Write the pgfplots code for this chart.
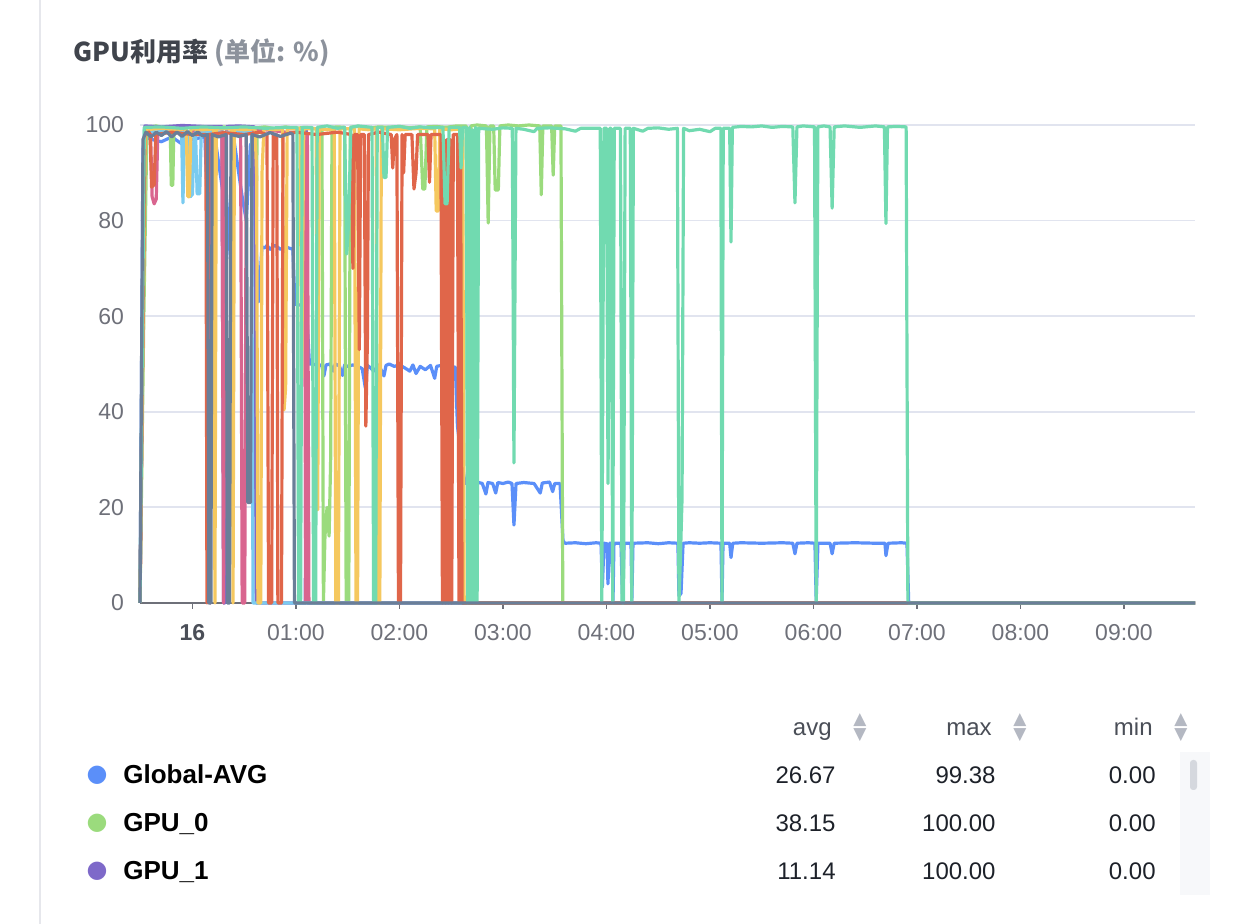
\documentclass[border=0pt]{standalone}
\usepackage{pgfplots}
\pgfplotsset{compat=1.18}
\usepackage{fontspec}
\setmainfont{Liberation Sans}
\newfontfamily\cjk{Noto Sans CJK SC}
\newfontfamily\symb{DejaVu Sans}

\definecolor{cAvg}{HTML}{5B8FF9}
\definecolor{cGa}{HTML}{9BDB7D}
\definecolor{cGb}{HTML}{7E69C9}
\definecolor{cYel}{HTML}{F5C85F}
\definecolor{cRed}{HTML}{E0664A}
\definecolor{cSky}{HTML}{7ACBF0}
\definecolor{cPink}{HTML}{D9658F}
\definecolor{cMint}{HTML}{71DAB0}
\definecolor{cSlate}{HTML}{6A7E98}
\definecolor{cGrid}{HTML}{E1E4EF}
\definecolor{cAxis}{HTML}{6E7079}
\definecolor{cDay}{HTML}{4A4E57}
\definecolor{cTitle}{HTML}{40444C}
\definecolor{cSub}{HTML}{8C929C}
\definecolor{cText}{HTML}{1D2129}
\definecolor{cArrow}{HTML}{B4B8C2}
\definecolor{cFrame}{HTML}{E6E7EC}
\definecolor{cPanel}{HTML}{F7F8FA}
\definecolor{cThumb}{HTML}{D5D8DE}

\begin{document}
\begin{tikzpicture}
\path[use as bounding box] (0pt,0pt) rectangle (625pt,462pt);
\draw[cFrame, line width=1pt] (20pt,0pt) -- (20pt,462pt);

% title
\node[anchor=west, inner sep=0pt] at (36.5pt,435.5pt)
  {\cjk\bfseries\fontsize{13}{15}\selectfont\color{cTitle}GPU利用率 \color{cSub}(单位: \%)};

\begin{axis}[
  at={(70pt,160.5pt)}, anchor=south west,
  scale only axis, width=527.5pt, height=239pt,
  xmin=-0.507, xmax=9.686, ymin=0, ymax=100,
  clip=false,
  axis x line*=bottom, axis y line*=left,
  axis line style={-},
  y axis line style={draw=none},
  x axis line style={draw=cAxis, line width=0.9pt},
  xtick={0,1,2,3,4,5,6,7,8,9},
  xticklabels={{\bfseries\color{cDay}16},01:00,02:00,03:00,04:00,05:00,06:00,07:00,08:00,09:00},
  ytick={0,20,40,60,80,100},
  ymajorgrids, grid style={draw=cGrid, line width=0.9pt},
  tick align=outside, major tick length=3pt,
  xtick style={draw=cAxis, line width=0.9pt},
  ytick style={draw=none},
  tick label style={font=\fontsize{11.5}{13}\selectfont, color=cAxis},
  xticklabel style={yshift=-4pt},
  yticklabel style={xshift=-1.5pt},
  /pgf/number format/assume math mode=true,
  every axis plot/.append style={line width=1.6pt, line join=round, no markers},
]
% Global-AVG
\addplot[cAvg] coordinates {
(-0.507,0) (-0.478,95) (-0.459,97.5) (-0.4,97) (-0.3,96.5) (-0.2,97.5) (-0.1,96) (0,97) (0.12,97.5)
(0.14,85) (0.16,75) (0.19,88) (0.22,97) (0.30,85) (0.33,72) (0.37,86) (0.40,97) (0.48,85) (0.52,80)
(0.56,96) (0.585,86) (0.615,74) (0.64,63) (0.671,74.5) (0.70,74.3) (0.72,74.8) (0.75,74) (0.78,74.6)
(0.80,74.8) (0.85,74) (0.90,74.5) (0.94,74.2) (0.97,74) (0.99,62.5) (1.05,62.3) (1.10,62.5) (1.13,50)
(1.232,49.8) (1.25,49.6) (1.27,47.5) (1.29,49.8) (1.33,50) (1.36,48.5) (1.38,50) (1.42,49.6) (1.45,47.6)
(1.47,49.8) (1.50,49.5) (1.55,49.8) (1.60,49.5) (1.64,49) (1.67,45) (1.69,49.7) (1.72,49.2) (1.75,48.5)
(1.80,49.8) (1.85,47.5) (1.87,49.7) (1.90,50) (1.95,49.5) (2.00,49.8) (2.05,49.2) (2.10,48.5) (2.13,49.8)
(2.16,48) (2.20,49.5) (2.25,48.8) (2.30,49.7) (2.34,47) (2.36,49.5) (2.40,49.7) (2.45,49.2) (2.50,49.5)
(2.54,49.3) (2.56,37) (2.60,30) (2.633,25) (2.66,25.2) (2.70,24.8) (2.75,25.3) (2.80,25) (2.835,22.8)
(2.855,25.2) (2.90,25) (2.93,23) (2.95,25.2) (3.00,25) (3.05,25.3) (3.087,25) (3.106,16.3) (3.126,25)
(3.20,25.2) (3.30,25) (3.36,23) (3.38,25.1) (3.45,25.3) (3.48,23.3) (3.50,25) (3.551,25) (3.58,13)
(3.60,12.5) (3.70,12.6) (3.80,12.4) (3.90,12.6) (3.947,12.5) (3.96,3.3) (3.976,12.5) (4.005,12.4)
(4.014,4) (4.03,12.5) (4.053,12.5) (4.063,0.5) (4.072,12.5) (4.14,12.5) (4.155,0.5) (4.17,12.5)
(4.237,12.5) (4.245,0.5) (4.256,12.5) (4.40,12.6) (4.50,12.4) (4.60,12.6) (4.69,12.5) (4.70,1.5)
(4.72,2) (4.74,12.5) (4.80,12.6) (4.90,12.5) (5.00,12.6) (5.106,12.5) (5.116,0.5) (5.126,12.5)
(5.19,12.5) (5.203,9.5) (5.22,12.5) (5.30,12.6) (5.50,12.5) (5.70,12.6) (5.80,12.5) (5.821,10.3)
(5.84,12.5) (5.95,12.6) (6.014,12.5) (6.026,0.5) (6.043,12.5) (6.16,12.5) (6.18,10.3) (6.20,12.5)
(6.40,12.6) (6.60,12.5) (6.69,12.5) (6.70,9.9) (6.72,12.5) (6.85,12.6) (6.903,12.5) (6.92,0) (9.686,0)
};
% GPU_0
\addplot[cGa] coordinates {
(-0.507,0) (-0.47,60) (-0.44,99.5) (-0.35,99.8) (-0.25,99.3) (-0.215,99.5) (-0.205,87.4) (-0.19,87.4)
(-0.18,99.5) (-0.1,99.8) (0,99.4) (0.1,99.7) (0.2,99.2) (0.3,99.6) (0.4,99.3) (0.5,99.7) (0.6,99.4)
(0.61,66) (0.625,99.4) (0.7,99.6) (0.8,99.2) (0.9,99.6) (0.98,99.3) (1.1,99.5) (1.2,99.2) (1.251,99.5)
(1.265,0) (1.28,14) (1.30,20) (1.32,14) (1.335,30) (1.348,99.5) (1.4,99.6) (1.47,99.5) (1.485,0)
(1.51,0) (1.525,99.5) (1.6,99.7) (1.7,99.3) (1.8,99.6) (1.9,99.5) (2.0,99.7) (2.1,99.4) (2.2,99.6)
(2.225,86.6) (2.245,86.6) (2.265,99.6) (2.35,99.7) (2.45,99.5) (2.55,99.8) (2.645,99.8) (2.66,0)
(2.675,0) (2.69,99.8) (2.75,100) (2.84,99.8) (2.857,79.5) (2.874,99.8) (2.91,99.8) (2.925,86.4)
(2.955,86.4) (2.97,99.8) (3.05,100) (3.15,99.8) (3.25,100) (3.355,99.8) (3.37,85.4) (3.385,99.8)
(3.47,99.8) (3.485,89.5) (3.50,99.8) (3.56,99.8) (3.578,0) (9.686,0)
};
% GPU_1
\addplot[cGb] coordinates {
(-0.507,0) (-0.46,99.8) (-0.3,99.6) (-0.1,99.9) (0.1,99.7) (0.285,99.7) (0.30,0) (0.315,0) (0.33,99.7)
(0.45,99.8) (0.60,99.6) (0.615,0) (1.09,0) (1.10,99) (1.11,0) (9.686,0)
};
% pink
\addplot[cPink] coordinates {
(-0.507,0) (-0.46,99) (-0.405,98.5) (-0.39,85) (-0.37,83.5) (-0.35,84.5) (-0.335,98.5) (-0.2,99)
(-0.05,98.5) (0.1,99) (0.16,98.5) (0.172,0) (0.188,98.5) (0.285,98.5) (0.30,0) (0.32,98.5) (0.465,98.5)
(0.48,0) (0.505,0) (0.52,98.5) (0.7,99) (0.9,98.5) (1.08,98.5) (1.095,0) (1.11,98) (1.125,0) (9.686,0)
};
% light blue
\addplot[cSky] coordinates {
(-0.507,0) (-0.465,99) (-0.35,98.5) (-0.25,99) (-0.15,98.6) (-0.105,98.6) (-0.092,83.7) (-0.078,98.6)
(-0.035,98.6) (-0.02,85) (0.0,85.5) (0.015,98) (0.03,98.4) (0.045,85.6) (0.07,85.6) (0.085,98.4)
(0.2,98.6) (0.35,98.4) (0.5,98.7) (0.57,98.4) (0.585,0) (9.686,0)
};
% yellow
\addplot[cYel] coordinates {
(-0.507,0) (-0.455,99) (-0.3,99.3) (-0.15,99) (-0.06,99.2) (-0.045,85) (-0.03,85) (-0.015,99.2) (0.1,99)
(0.205,99.2) (0.217,0) (0.23,99.2) (0.38,99.2) (0.392,0) (0.405,99.2) (0.5,99) (0.605,99.2) (0.62,89.5)
(0.632,0) (0.66,0) (0.672,90) (0.69,99.2) (0.8,99) (0.87,99.2) (0.885,40.4) (0.90,45) (0.915,99.2)
(1.04,99.2) (1.055,47) (1.075,99.2) (1.195,99.2) (1.21,19.5) (1.225,99.2) (1.3,99) (1.37,99.2)
(1.385,0) (1.41,0) (1.425,99.2) (1.565,99.2) (1.58,0) (1.595,0) (1.61,99.2) (1.7,99) (1.775,99.2)
(1.79,0) (1.81,0) (1.825,99.2) (2.0,99) (2.2,99.3) (2.34,99.2) (2.355,82) (2.375,82) (2.39,99.2)
(2.5,99) (2.61,99.2) (2.625,0) (9.686,0)
};
% red
\addplot[cRed] coordinates {
(-0.507,0) (-0.46,98) (-0.42,98.5) (-0.41,98) (-0.395,87) (-0.37,87.5) (-0.355,98) (-0.2,98.5) (0,98)
(0.13,98) (0.14,0) (0.155,98) (0.3,98.4) (0.5,98) (0.65,98.5) (0.72,98) (0.735,0) (0.765,0) (0.78,98)
(0.80,93) (0.815,98) (0.825,0) (0.86,0) (0.875,98) (1.0,98.5) (1.2,98) (1.4,98.5) (1.535,98) (1.55,70)
(1.565,98) (1.595,98) (1.612,53) (1.625,98) (1.66,98) (1.675,37) (1.69,55) (1.70,98) (1.8,98.5)
(1.92,98) (1.935,91) (1.95,97) (1.975,98) (1.99,0) (2.01,0) (2.025,98) (2.04,90) (2.055,98) (2.12,98)
(2.14,86.6) (2.16,90) (2.175,98) (2.275,98) (2.29,88) (2.305,98) (2.40,98) (2.415,0) (2.43,97)
(2.445,0) (2.46,97) (2.475,0) (2.49,97) (2.505,0) (2.52,98) (2.56,98) (2.575,0) (2.59,97) (2.605,0)
(9.686,0)
};
% mint
\addplot[cMint] coordinates {
(-0.507,0) (-0.465,99.5) (-0.3,99.6) (-0.1,99.3) (0.1,99.6) (0.3,99.4) (0.5,99.6) (0.7,99.3) (0.9,99.5)
(1.01,99.5) (1.025,0) (1.045,0) (1.06,99.5) (1.155,99.5) (1.17,0) (1.19,0) (1.205,99.5) (1.3,99.8)
(1.4,99.3) (1.47,99.5) (1.49,73) (1.51,80) (1.53,99.5) (1.6,99.8) (1.735,99.5) (1.75,0) (1.77,0)
(1.785,99.5) (1.835,99.5) (1.85,89) (1.87,89) (1.885,99.5) (2.0,99.7) (2.1,99.3) (2.2,99.6) (2.3,99.4)
(2.42,99.5) (2.44,83.5) (2.46,83.5) (2.48,99.5) (2.58,99.5) (2.595,91) (2.61,99.5) (2.645,99.5)
(2.66,0) (2.675,99.5) (2.69,0) (2.705,99) (2.72,0) (2.735,99.5) (2.75,0) (2.765,99.3) (2.9,99.1)
(3.0,99.4) (3.09,99.3) (3.106,29.3) (3.125,99.3) (3.2,99.1) (3.3,98.6) (3.33,99.3) (3.45,99.4)
(3.6,99.2) (3.7,98.7) (3.75,99.3) (3.85,99.3) (3.94,99.3) (3.955,0) (3.975,99.3) (4.0,99.3)
(4.015,25) (4.03,99.3) (4.045,99.3) (4.06,0) (4.075,99.3) (4.135,99.3) (4.15,0) (4.165,0) (4.18,99.3)
(4.23,99.3) (4.245,0) (4.26,99.3) (4.35,98.7) (4.4,99.3) (4.5,99.4) (4.6,99.1) (4.685,99.3) (4.70,0)
(4.715,10) (4.73,22) (4.745,99.3) (4.8,98.8) (4.9,99.1) (5.0,98.6) (5.05,99.3) (5.105,99.3) (5.116,0)
(5.128,99.3) (5.19,99.3) (5.203,75.5) (5.216,99.5) (5.3,99.7) (5.4,99.6) (5.5,99.8) (5.6,99.5)
(5.7,99.7) (5.8,99.6) (5.821,83.7) (5.84,99.6) (5.9,99.8) (6.01,99.6) (6.026,0) (6.042,99.6)
(6.1,99.8) (6.16,99.6) (6.18,82.6) (6.20,99.6) (6.3,99.8) (6.45,99.5) (6.6,99.8) (6.685,99.6)
(6.70,79.4) (6.715,99.6) (6.8,99.7) (6.895,99.6) (6.912,0) (9.686,0)
};
% slate
\addplot[cSlate] coordinates {
(-0.507,0) (-0.478,97) (-0.45,98.5) (-0.4,97.5) (-0.35,98.5) (-0.3,97.8) (-0.25,98.6) (-0.2,97.5)
(-0.15,98.5) (-0.1,97.6) (-0.05,98.6) (0,97.8) (0.05,98.5) (0.1,97.7) (0.145,98) (0.158,0) (0.178,0)
(0.19,98) (0.25,97.5) (0.325,98) (0.338,0) (0.358,0) (0.372,98) (0.45,97.6) (0.52,98) (0.535,21)
(0.56,21) (0.575,98) (0.65,97.5) (0.75,98.4) (0.85,97.6) (0.95,98.3) (0.97,98) (0.985,0) (9.686,0)
};
\end{axis}

% legend table
\begin{scope}[every node/.style={inner sep=0pt, font=\fontsize{12}{14}\selectfont}]
\node[anchor=base east, text=cDay] at (416pt,94pt) {avg};
\node[anchor=base east, text=cDay] at (496pt,94pt) {max};
\node[anchor=base east, text=cDay] at (576.5pt,94pt) {min};
\foreach \xa in {430,510,590.5}{
  \node[text=cArrow, font=\symb\fontsize{8.5}{8.5}\selectfont] at (\xa pt,102pt) {▲};
  \node[text=cArrow, font=\symb\fontsize{8.5}{8.5}\selectfont] at (\xa pt,94.5pt) {▼};
}
\fill[cPanel] (590pt,14.5pt) rectangle (605pt,86pt);
\fill[cThumb, rounded corners=1.5pt] (595pt,67pt) rectangle (598.5pt,82pt);

\node[text=cAvg, font=\symb\fontsize{12}{12}\selectfont] at (48.5pt,74.5pt) {●};
\node[text=cGa, font=\symb\fontsize{12}{12}\selectfont] at (48.5pt,50.5pt) {●};
\node[text=cGb, font=\symb\fontsize{12}{12}\selectfont] at (48.5pt,26.5pt) {●};
\node[anchor=base west, text=black, font=\bfseries\fontsize{13}{15}\selectfont] at (61.5pt,70pt) {Global-AVG};
\node[anchor=base west, text=black, font=\bfseries\fontsize{13}{15}\selectfont] at (61.5pt,46pt) {GPU\_0};
\node[anchor=base west, text=black, font=\bfseries\fontsize{13}{15}\selectfont] at (61.5pt,22pt) {GPU\_1};
\node[anchor=base east, text=cText] at (418pt,70.3pt) {26.67};
\node[anchor=base east, text=cText] at (498pt,70.3pt) {99.38};
\node[anchor=base east, text=cText] at (578pt,70.3pt) {0.00};
\node[anchor=base east, text=cText] at (418pt,46.3pt) {38.15};
\node[anchor=base east, text=cText] at (498pt,46.3pt) {100.00};
\node[anchor=base east, text=cText] at (578pt,46.3pt) {0.00};
\node[anchor=base east, text=cText] at (418pt,22.3pt) {11.14};
\node[anchor=base east, text=cText] at (498pt,22.3pt) {100.00};
\node[anchor=base east, text=cText] at (578pt,22.3pt) {0.00};
\end{scope}
\end{tikzpicture}
\end{document}
